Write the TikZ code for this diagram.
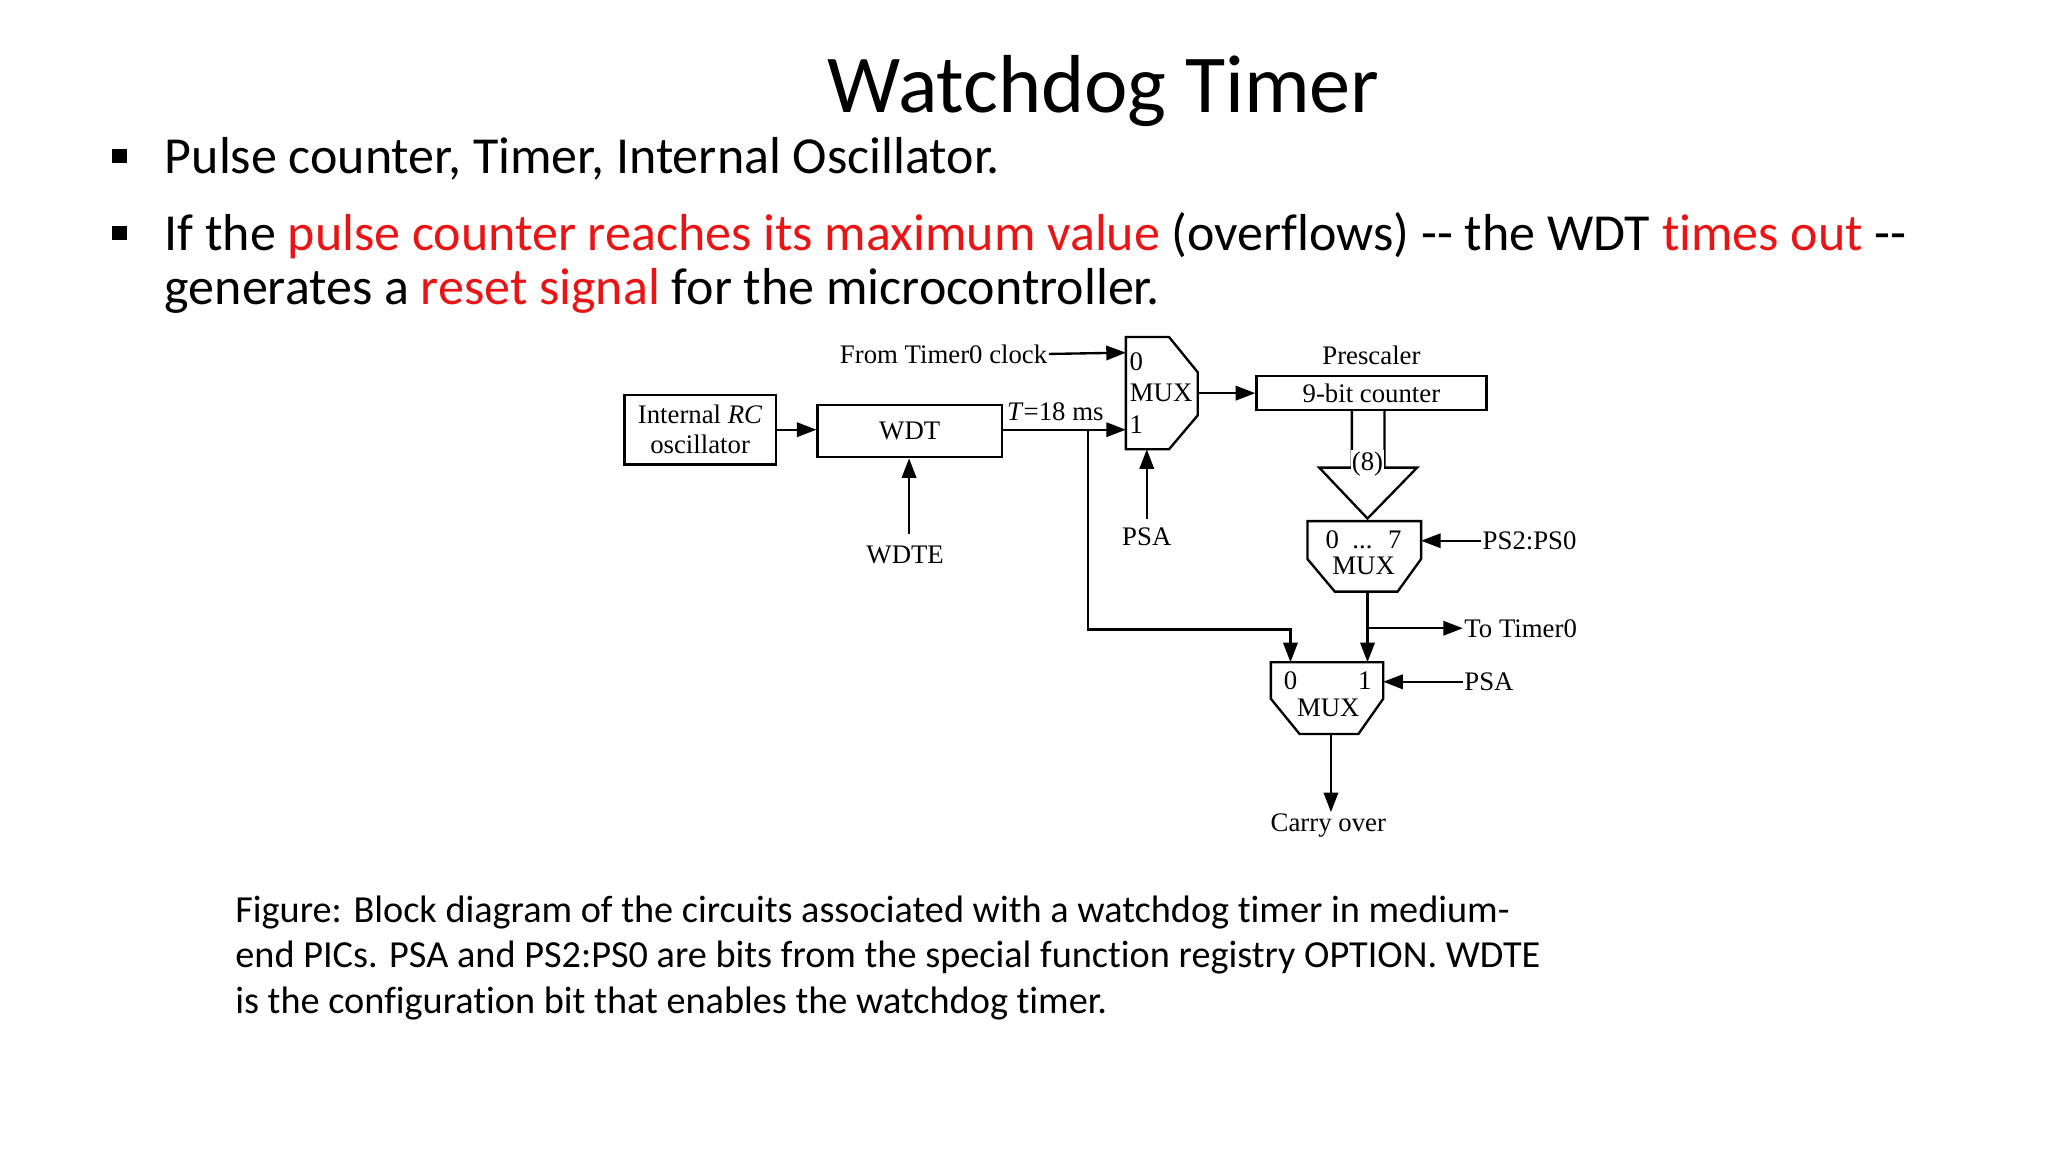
\documentclass[tikz,border=0pt]{standalone}
\usepackage{fontspec}
\setmainfont{Carlito}[Ligatures={TeX,NoCommon}]
\newfontfamily\dfont{Liberation Serif}
\usetikzlibrary{arrows.meta}
\definecolor{hl}{RGB}{235,20,20}
\tikzset{
  ln/.style={line width=1.8pt},
  ar/.style={line width=1.8pt,-{Triangle[length=15pt,width=11pt]}},
  dl/.style={font=\dfont\fontsize{20.5}{22}\selectfont,inner sep=1pt},
  bx/.style={draw,line width=1.8pt,font=\dfont\fontsize{20.5}{23}\selectfont,align=center,inner sep=0pt},
  bt/.style={anchor=base west,inner sep=0pt,font=\fontsize{39.8}{44}\selectfont},
  cp/.style={anchor=base west,inner sep=0pt,font=\fontsize{29.3}{33}\selectfont}
}
\begin{document}
\begin{tikzpicture}[x=1pt,y=-1pt]
\useasboundingbox (0,0) rectangle (1568,882);
\node[inner sep=0pt,font=\fontsize{63}{70}\selectfont] (title) at (845,70) {Watchdog Timer};
\fill (86,114) rectangle (97,125);
\fill (86,173) rectangle (97,184);
\node[bt] (b1) at (126,133) {Pulse counter, Timer, Internal Oscillator.};
\node[bt] (b2) at (126,192) {If the \textcolor{hl}{pulse counter reaches its maximum value} (overflows) -{}- the WDT \textcolor{hl}{times out} -{}-};
\node[bt] (b3) at (126,233) {generates a \textcolor{hl}{reset signal} for the microcontroller.};
\node[cp] (c1) at (180,706) {Figure: Block diagram of the circuits associated with a watchdog timer in medium-};
\node[cp] (c2) at (180,741) {end PICs. PSA and PS2:PS0 are bits from the special function registry OPTION. WDTE};
\node[cp] (c3) at (180,776) {is the configuration bit that enables the watchdog timer.};
% boxes
\node[bx,minimum width=116pt,minimum height=53pt] (rc) at (536,329) {Internal \textit{RC}\\oscillator};
\node[bx,minimum width=141pt,minimum height=40pt] (wdt) at (696.5,330) {WDT};
\node[bx,minimum width=176pt,minimum height=26pt] (cnt) at (1050,301) {9-bit counter};
\node[dl] (pre) at (1050,272) {Prescaler};
\draw[ar] (rc.east) -- (wdt.west |- rc.east);
\node[dl] (wdte) at (693,425) {WDTE};
\draw[ar] (wdte.north -| 696,0) ++(0,-8) coordinate (w0) -- (w0 |- wdt.south);
% mux1
\draw[ln] (862,258) -- (895,258) -- (917,285) -- (917,318) -- (895,344) -- (862,344) -- cycle;
\coordinate (m1a) at (862,270); \coordinate (m1b) at (862,329);
\coordinate (m1o) at (917,301); \coordinate (m1s) at (878,344);
\node[dl] at (870,277) {0}; \node[dl] at (870,325) {1}; \node[dl] at (889,301) {MUX};
\node[dl,anchor=east] (ft) at (803,271) {From Timer0 clock};
\draw[ar] (ft.east) -- (m1a);
\draw[ar] (wdt.east |- m1b) -- (m1b);
\node[dl] (t18) at (808,315) {\textit{T}=18 ms};
\node[dl] (psa1) at (878,411) {PSA};
\draw[ar] (878,397) -- (m1s);
\draw[ar] (m1o) -- (cnt.west |- m1o);
% bus
\draw[ln] (1035,314) -- (1035,358) -- (1010,358) -- (1047,397) -- (1085,358) -- (1060,358) -- (1060,314);
\node[dl,fill=white] at (1047,355) {(8)};
% mux2
\draw[ln] (1001,399) -- (1088,399) -- (1088,428) -- (1070,453) -- (1022,453) -- (1001,428) -- cycle;
\node[dl] at (1044,413) {0 \ ... \ 7}; \node[dl] at (1044,433) {MUX};
\node[dl,anchor=west] (ps2) at (1134,414) {PS2:PS0};
\draw[ar] (ps2.west) -- (1088,414);
% mux3
\draw[ln] (973,507) -- (1059,507) -- (1059,535) -- (1040,562) -- (995,562) -- (973,535) -- cycle;
\node[dl] at (988,521) {0}; \node[dl] at (1045,521) {1}; \node[dl] at (1017,542) {MUX};
\node[dl,anchor=west] (psa2) at (1120,522) {PSA};
\draw[ar] (psa2.west) -- (1059,522);
\draw[ar] (1047,453) -- (1047,507);
\node[dl,anchor=west] (tt0) at (1120,481) {To Timer0};
\draw[ar] (1047,481) -- (tt0.west);
\draw[ar] (833,329) -- (833,482) -- (988,482) -- (988,507);
\node[dl] (co) at (1017,632) {Carry over};
\draw[ar] (1019,562) -- (co.north -| 1019,0);
\end{tikzpicture}
\end{document}
